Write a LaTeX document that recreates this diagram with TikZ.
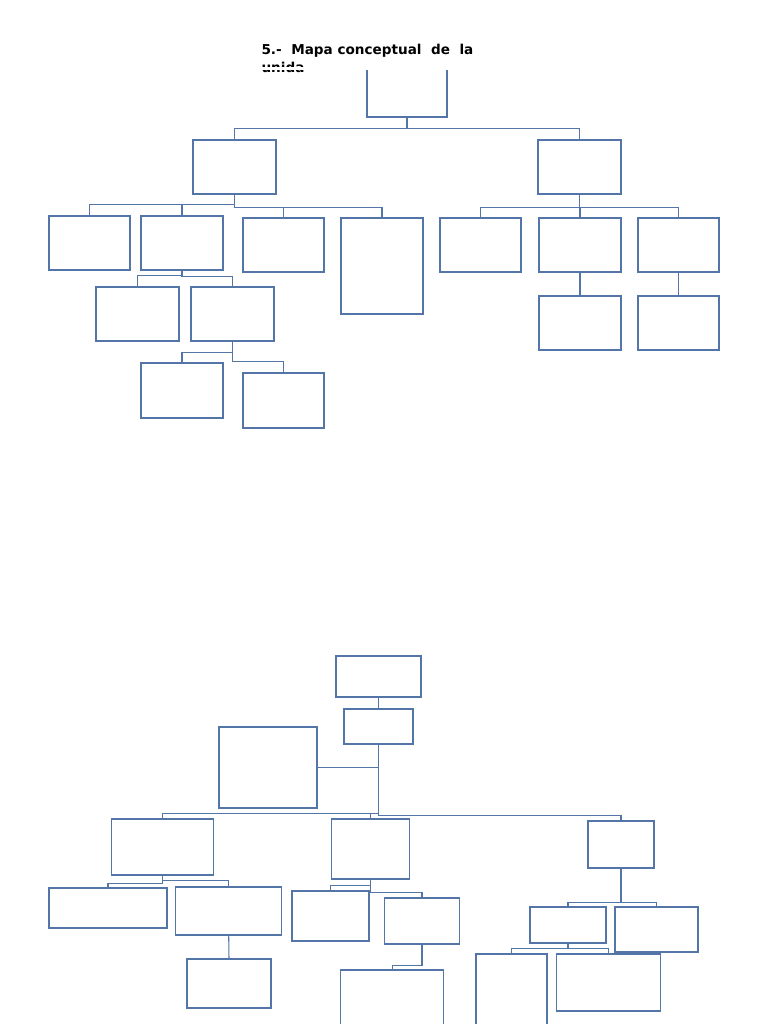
\documentclass[tikz,border=0pt]{standalone}
\usepackage{fontspec}
\setmainfont{DejaVu Sans}
\usepackage{tikz}
\definecolor{lineblue}{RGB}{84,117,168}
\tikzset{>=stealth}

\begin{document}
\begin{tikzpicture}[x=0.3mm, y=-0.3mm, line width=0.9pt,
    bx/.style={draw=lineblue, rectangle, inner sep=0pt},
    link/.style={draw=lineblue, line width=0.9pt}]
                \clip (0,0) rectangle (768,1024);
                \fill[white] (0,0) rectangle (768,1024);
                % upper map
                \node[bx, minimum width=80*0.3mm, minimum height=48*0.3mm] (root) at (407,93) {};
                \node[bx, minimum width=83*0.3mm, minimum height=54*0.3mm] (a) at (234.5,167) {};
                \node[bx, minimum width=83*0.3mm, minimum height=54*0.3mm] (b) at (579.5,167) {};
                \node[bx, minimum width=81*0.3mm, minimum height=54*0.3mm] (a1) at (89.5,243) {};
                \node[bx, minimum width=82*0.3mm, minimum height=54*0.3mm] (a2) at (182,243) {};
                \node[bx, minimum width=81*0.3mm, minimum height=54*0.3mm] (a3) at (283.5,245) {};
                \node[bx, minimum width=82*0.3mm, minimum height=96*0.3mm] (a4) at (382,266) {};
                \node[bx, minimum width=81*0.3mm, minimum height=54*0.3mm] (b1) at (480.5,245) {};
                \node[bx, minimum width=82*0.3mm, minimum height=54*0.3mm] (b2) at (580,245) {};
                \node[bx, minimum width=81*0.3mm, minimum height=54*0.3mm] (b3) at (678.5,245) {};
                \node[bx, minimum width=82*0.3mm, minimum height=54*0.3mm] (b2a) at (580,323) {};
                \node[bx, minimum width=81*0.3mm, minimum height=54*0.3mm] (b3a) at (678.5,323) {};
                \node[bx, minimum width=83*0.3mm, minimum height=54*0.3mm] (a2a) at (137.5,314) {};
                \node[bx, minimum width=83*0.3mm, minimum height=54*0.3mm] (a2b) at (232.5,314) {};
                \node[bx, minimum width=82*0.3mm, minimum height=55*0.3mm] (a2b1) at (182,390.5) {};
                \node[bx, minimum width=81*0.3mm, minimum height=55*0.3mm] (a2b2) at (283.5,400.5) {};
                \draw[link] (root.south) -- ++(0,11) -| (a.north)
                    (root.south) -- ++(0,11) -| (b.north);
                \draw[link] (a.south) -- ++(0,10) -| (a1.north)
                    (a.south) -- ++(0,10) -| (a2.north)
                    (a.south) -- ++(0,13) -| (a3.north)
                    (a.south) -- ++(0,13) -| (a4.north);
                \draw[link] (b.south) -- ++(0,13) -| (b1.north)
                    (b.south) -- ++(0,13) -| (b2.north)
                    (b.south) -- ++(0,13) -| (b3.north);
                \draw[link] (b2.south) -- (b2a.north)
                    (b3.south) -- (b3a.north);
                \draw[link] (a2.south) -- ++(0,5) -| (a2a.north)
                    (a2.south) -- ++(0,6) -| (a2b.north);
                \draw[link] (a2b.south) -- ++(0,11) -| (a2b1.north)
                    (a2b.south) -- ++(0,20) -| (a2b2.north);
                % title, second line cut off
                \node[anchor=base west, inner sep=0pt, font=\bfseries\fontsize{11.6}{13}\selectfont] (title) at (261,54) {5.-\ \ Mapa conceptual\ \ de\ \ la};
                \node[anchor=base west, inner sep=0pt, font=\bfseries\fontsize{11.6}{13}\selectfont] (title2) at (261,72) {unida};
                \fill[white] (255,66.5) rectangle (480,70.2);
                % lower map
                \node[bx, minimum width=85*0.3mm, minimum height=41*0.3mm] (c) at (378.5,676.5) {};
                \node[bx, minimum width=69*0.3mm, minimum height=35*0.3mm] (d) at (378.5,726.5) {};
                \node[bx, minimum width=98*0.3mm, minimum height=81*0.3mm] (e) at (268,767.5) {};
                \node[bx, minimum width=102*0.3mm, minimum height=56*0.3mm] (f1) at (162.5,847) {};
                \node[bx, minimum width=78.5*0.3mm, minimum height=60*0.3mm] (f2) at (370.7,849) {};
                \node[bx, minimum width=66*0.3mm, minimum height=47*0.3mm] (f3) at (621,844.5) {};
                \node[bx, minimum width=118*0.3mm, minimum height=40*0.3mm] (g1) at (108,908) {};
                \node[bx, minimum width=106.5*0.3mm, minimum height=48*0.3mm] (g2) at (228.7,911) {};
                \node[bx, minimum width=84*0.3mm, minimum height=49*0.3mm] (g2a) at (229,983.5) {};
                \node[bx, minimum width=77*0.3mm, minimum height=50*0.3mm] (h1) at (330.5,916) {};
                \node[bx, minimum width=75*0.3mm, minimum height=46*0.3mm] (h2) at (422,921) {};
                \node[bx, minimum width=102.5*0.3mm, minimum height=60*0.3mm] (h2a) at (392.2,1000) {};
                \node[bx, minimum width=76*0.3mm, minimum height=36*0.3mm] (i1) at (568,925) {};
                \node[bx, minimum width=83*0.3mm, minimum height=45*0.3mm] (i2) at (656.5,929.5) {};
                \node[bx, minimum width=71*0.3mm, minimum height=76*0.3mm] (i1a) at (511.5,992) {};
                \node[bx, minimum width=103.5*0.3mm, minimum height=57*0.3mm] (i1b) at (608.7,982.5) {};
                \draw[link] (c.south) -- (d.north);
                \draw[link] (e.east) -- (e.east -| d.south);
                \draw[link] (d.south) -- ++(0,69) -| (f1.north)
                    (d.south) -- ++(0,69) -| (f2.north)
                    (d.south) -- ++(0,71) -| (f3.north);
                \draw[link] (f1.south) -- ++(0,8) -| (g1.north)
                    (f1.south) -- ++(0,5) -| (g2.north);
                \draw[link] (g2.south) -- (g2a.north);
                \draw[link] (f2.south) -- ++(0,6) -| (h1.north)
                    (f2.south) -- ++(0,13) -| (h2.north);
                \draw[link] (h2.south) -- ++(0,21) -| (h2a.north);
                \draw[link] (f3.south) -- ++(0,34) -| (i1.north)
                    (f3.south) -- ++(0,34) -| (i2.north);
                \draw[link] (i1.south) -- ++(0,5) -| (i1a.north)
                    (i1.south) -- ++(0,5) -| (i1b.north);
    \end{tikzpicture}
\end{document}
